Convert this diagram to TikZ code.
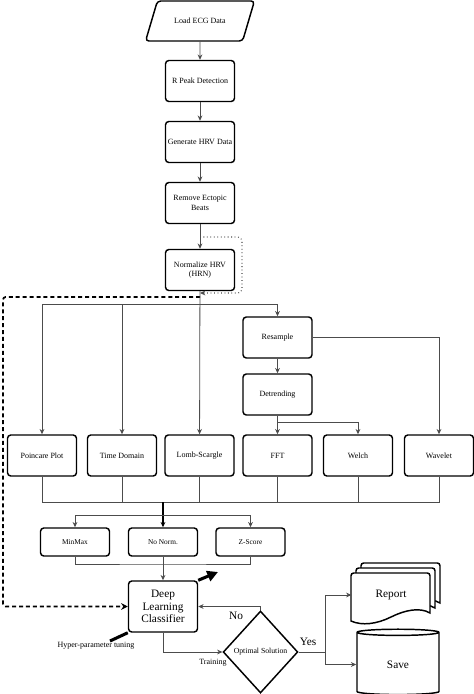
\documentclass[tikz,border=0pt]{standalone}
\usepackage{fontspec}
\setmainfont{Liberation Serif}
\usetikzlibrary{shapes.geometric,arrows.meta}

\tikzset{
  procbox/.style={draw, line width=1.1pt, rounded corners=2.5pt, fill=white, minimum width=51.75pt, minimum height=30.75pt, inner sep=1pt, align=center, font=\fontsize{6}{7}\selectfont},
  normbox/.style={procbox, minimum height=21pt, font=\fontsize{5.5}{6.5}\selectfont},
  link/.style={draw=black!70, line width=0.6pt},
  arr/.style={link, -{Stealth[length=4pt,width=3.6pt]}},
  docpage/.style={draw, line width=1.1pt, fill=white},
  smalltext/.style={inner sep=0.5pt, font=\fontsize{6}{7}\selectfont},
  bigtext/.style={inner sep=0.5pt, font=\fontsize{8.5}{9.5}\selectfont},
}

\begin{document}
\begin{tikzpicture}[x=0.75pt,y=0.75pt,yscale=-1,xscale=1]
\useasboundingbox (0,0) rectangle (474,694);
%Input and preprocessing chain
\node [draw, line width=1.1pt, trapezium, trapezium left angle=60, trapezium right angle=120, trapezium stretches=true, minimum width=82pt, minimum height=30pt, rounded corners=2.5pt, font=\fontsize{6}{7}\selectfont] (load) at (200,21) {Load ECG Data};
\node [procbox] (rpeak) at (200,81) {R Peak Detection};
\node [procbox] (genhrv) at (200,142) {Generate HRV Data};
\node [procbox] (ectopic) at (200,203) {Remove Ectopic\\Beats};
\node [procbox] (normhrv) at (200,270) {Normalize HRV\\(HRN)};
%Feature extraction
\node [procbox] (resample) at (277.5,337.5) {Resample};
\node [procbox] (detrend) at (277.5,394.5) {Detrending};
\node [procbox] (poincare) at (42,455.5) {Poincare Plot};
\node [procbox] (timedom) at (122,455.5) {Time Domain};
\node [procbox] (lomb) at (199.5,455.5) {Lomb-Scargle};
\node [procbox] (fft) at (277.5,455.5) {FFT};
\node [procbox] (welch) at (358,455.5) {Welch};
\node [procbox] (wavelet) at (439,455.5) {Wavelet};
%Feature normalization
\node [normbox] (minmax) at (75,542) {MinMax};
\node [normbox] (nonorm) at (163,542) {No Norm.};
\node [normbox] (zscore) at (250.5,542) {Z-Score};
%Classifier and decision
\node [procbox, minimum height=38.25pt, font=\fontsize{8.5}{9.5}\selectfont] (dlc) at (163,606.5) {Deep\\Learning\\Classifier};
\node [draw, line width=1.1pt, diamond, aspect=1, inner sep=0pt, minimum width=56pt, minimum height=61.5pt, font=\fontsize{5.8}{7}\selectfont] (optsol) at (260.5,652) {Optimal Solution};
%Outputs
\foreach \s in {10,5,0}
  \draw [docpage, shift={(\s,-\s)}] (351,621) [rounded corners=2pt] -- (351,573) -- (430,573) [sharp corners] -- (430,613) .. controls (420,607) and (405,610) .. (391,617) .. controls (377,624) and (362,626) .. (351,621) -- cycle;
\node [minimum width=59pt, minimum height=36pt, font=\fontsize{8.5}{9.5}\selectfont] (report) at (391,595) {Report};
\node [draw, line width=1.1pt, cylinder, shape border rotate=90, aspect=0.2, minimum width=61.5pt, minimum height=49pt, font=\fontsize{8.5}{9.5}\selectfont] (save) at (398,664.5) {Save};

%Connectors
\coordinate (dotstart) at (200,237);
\coordinate (dotend) at (200,293);
\coordinate (dashstart) at (200,297);
\coordinate (dashcorner) at (3,297);
\coordinate (split) at (200,304);
\coordinate (dsplit) at (277.5,422);
\coordinate (merge) at (163,502);
\coordinate (nsplit) at (163,515);
\coordinate (njoin) at (163,564);
\coordinate (ysplit) at (325,652);
\coordinate (tunetip) at (218,572);
\coordinate (tunetail) at (110,641);

\draw [arr] (load) -- (rpeak);
\draw [arr] (rpeak) -- (genhrv);
\draw [arr] (genhrv) -- (ectopic);
\draw [arr] (ectopic) -- (normhrv);
\draw [link, dotted, line width=0.8pt, rounded corners=3pt, -{Stealth[length=4pt,width=3.6pt]}] (dotstart) -- ++(42,0) |- (dotend);
\draw [line width=1.3pt, dash pattern=on 3pt off 2.2pt, rounded corners=2pt, -{Stealth[length=5pt,width=5pt]}] (dashstart) -- (dashcorner) |- (dlc);
\draw [arr] (normhrv) -- (lomb);
\draw [arr] (split) -| (poincare);
\draw [arr] (split) -| (timedom);
\draw [arr] (split) -| (resample);
\draw [arr] (resample) -- (detrend);
\draw [arr] (resample) -| (wavelet);
\draw [arr] (detrend) -- (fft);
\draw [arr] (dsplit) -| (welch);
\foreach \n in {poincare,timedom,lomb,fft,welch,wavelet}
  \draw [link] (\n.south) |- (merge);
\draw [arr, draw=black, line width=1pt] (merge) -- (nonorm);
\draw [arr] (nsplit) -| (minmax);
\draw [arr] (nsplit) -| (zscore);
\draw [link] (minmax.south) |- (njoin) -| (zscore.south);
\draw [arr] (nonorm) -- (dlc);
\draw [line width=2.3pt, -{Triangle[length=8pt,width=8pt]}] (dlc.north east) -- (tunetip);
\draw [line width=2.3pt] (tunetail) -- (dlc.south west);
\draw [arr] (dlc) |- (optsol);
\draw [arr] (optsol.north) |- (dlc.east);
\draw [link] (optsol) -- (ysplit);
\draw [arr] (ysplit) |- (report);
\draw [arr] (ysplit) |- (save);
%Labels
\node [smalltext] (tunelabel) at (96,646) {Hyper-parameter tuning};
\node [smalltext] (trainlabel) at (213,663) {Training};
\node [bigtext] (nolabel) at (236,616) {No};
\node [bigtext] (yeslabel) at (308,642) {Yes};
\end{tikzpicture}
\end{document}
